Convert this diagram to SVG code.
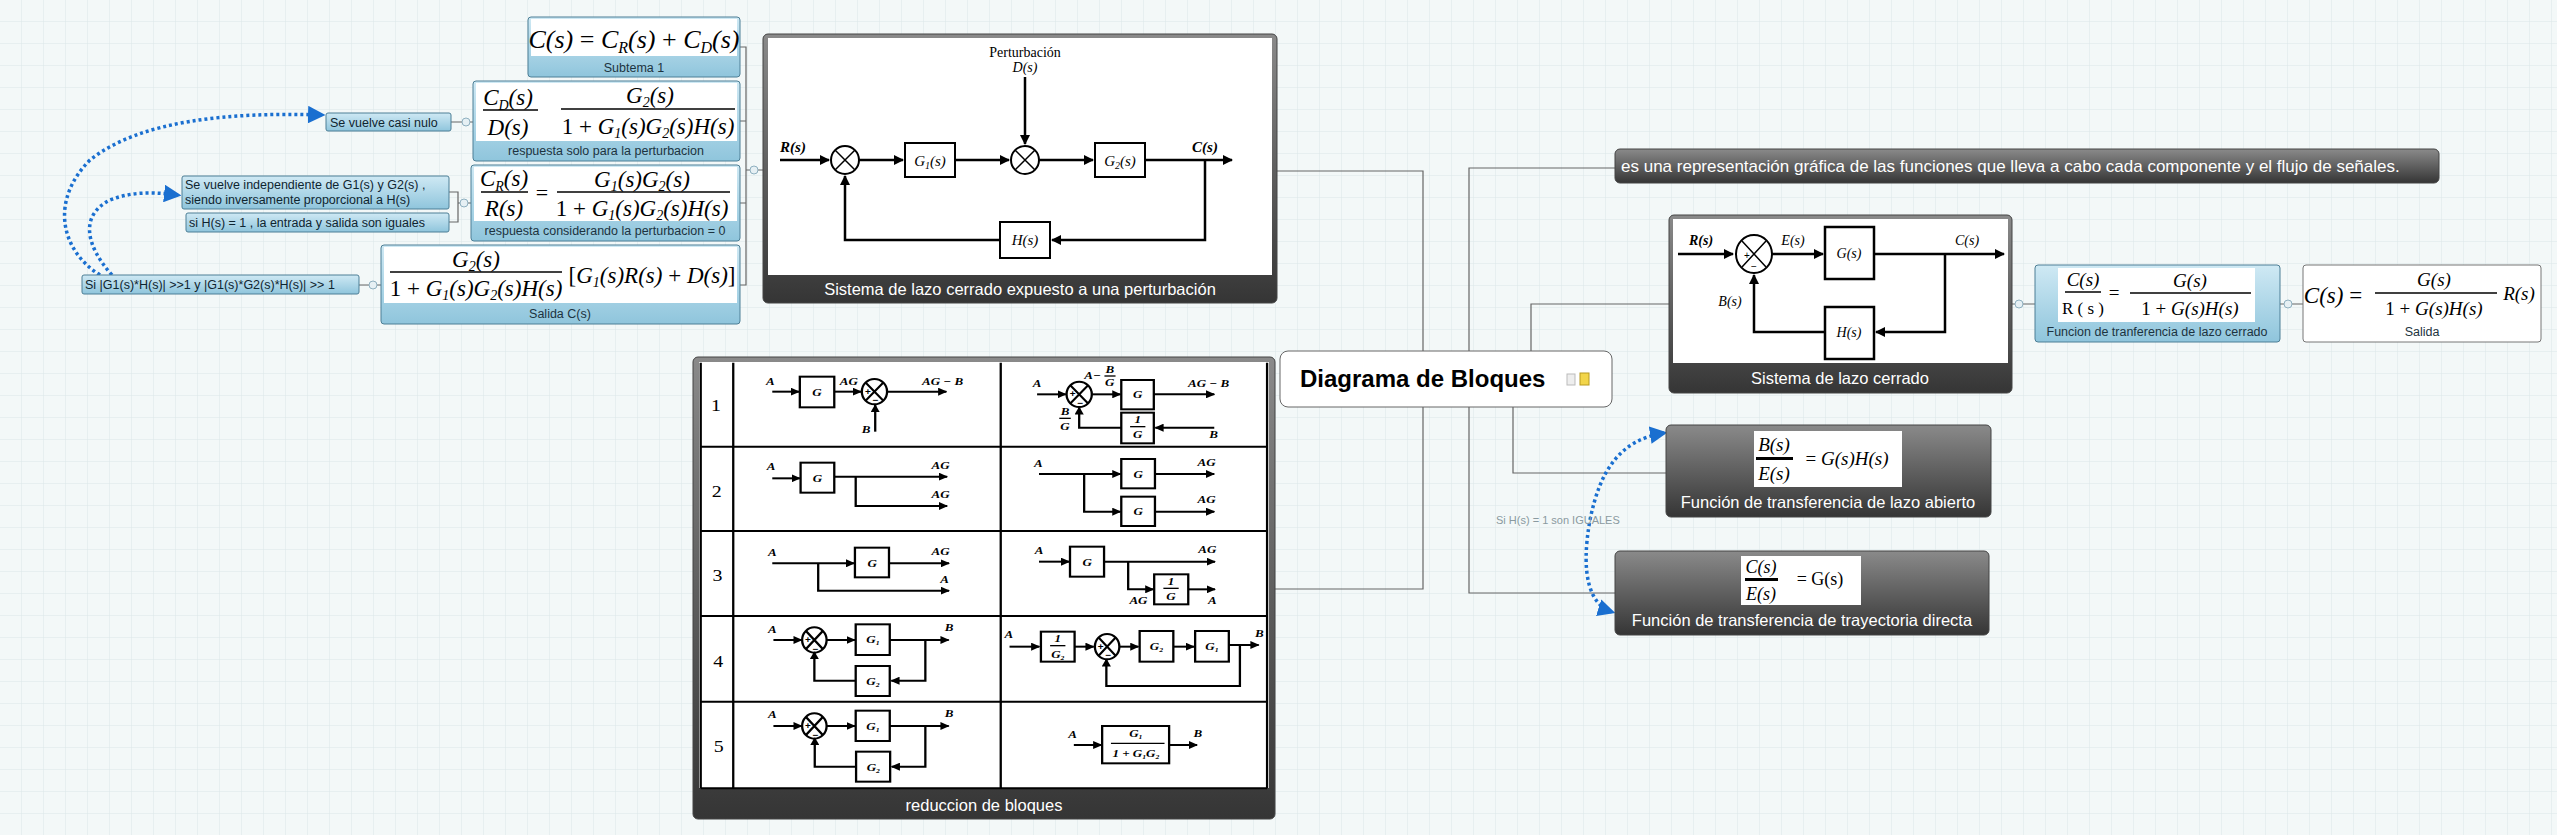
<svg xmlns="http://www.w3.org/2000/svg" width="2557" height="835" viewBox="0 0 2557 835">
<defs>
<pattern id="grid" width="22" height="22" patternUnits="userSpaceOnUse"><rect width="22" height="22" fill="#f3f8f8"/><path d="M22,0V22H0" fill="none" stroke="#dbe7e9" stroke-width="1"/></pattern>
<linearGradient id="dark" x1="0" y1="0" x2="0" y2="1"><stop offset="0" stop-color="#8a8a8a"/><stop offset="1" stop-color="#353535"/></linearGradient>
<linearGradient id="lb" x1="0" y1="0" x2="0" y2="1"><stop offset="0" stop-color="#cfe9f4"/><stop offset="1" stop-color="#8fc5dc"/></linearGradient>
<marker id="ar" viewBox="0 0 10 10" refX="9" refY="5" markerWidth="4" markerHeight="4" orient="auto"><path d="M0,0L10,5L0,10z" fill="#000"/></marker>
<marker id="ab" viewBox="0 0 10 10" refX="8" refY="5" markerWidth="5" markerHeight="5" orient="auto"><path d="M0,0L10,5L0,10z" fill="#1a6fd0"/></marker>
<marker id="abs" viewBox="0 0 10 10" refX="2" refY="5" markerWidth="5" markerHeight="5" orient="auto"><path d="M10,0L0,5L10,10z" fill="#1a6fd0"/></marker>
</defs>
<style>
.s{font-family:"Liberation Sans",Arial,sans-serif}
.m{font-family:"Liberation Serif","Times New Roman",serif;font-style:italic;fill:#000}
.n{font-style:normal}
.cap{font-family:"Liberation Sans",Arial,sans-serif;font-size:12.5px;fill:#1c3340;text-anchor:middle}
.wcap{font-family:"Liberation Sans",Arial,sans-serif;font-size:16.5px;fill:#fff;text-anchor:middle}
.lbn{fill:url(#lb);stroke:#4d7f96;stroke-width:1}
.dk{fill:url(#dark);stroke:#444;stroke-width:1}
.wh{fill:#fff}
.ln{fill:none;stroke:#666;stroke-width:1.2}
.bl{fill:none;stroke:#000;stroke-width:2.5}
.fr{stroke:#000;stroke-width:1.5}
.dot{fill:none;stroke:#1a6fd0;stroke-width:3.5;stroke-dasharray:3 3}
.t{fill:none;stroke:#000;stroke-width:6}
.ta{fill:none;stroke:#000;stroke-width:6;marker-end:url(#ar)}
.tt{font-family:"Liberation Serif","Times New Roman",serif;font-style:italic;font-weight:bold;font-size:34px;text-anchor:middle}
.tn{font-family:"Liberation Serif","Times New Roman",serif;font-size:52px;text-anchor:middle}
.knob{fill:#e6f0f4;stroke:#8fb0c0;stroke-width:1}
.sm{font-family:"Liberation Sans",Arial,sans-serif;font-size:12.5px;fill:#0f2530}
</style>
<rect width="2557" height="835" fill="url(#grid)"/>

<g id="connectors">
<path class="ln" d="M740,47H746V285H740M740,121H746M740,203H746M746,170H763"/>
<path class="ln" d="M451,122H473M449,192H458V222H449M458,203H471M359,285H381"/>
<circle class="knob" cx="466" cy="122" r="4"/><circle class="knob" cx="464" cy="203" r="4"/><circle class="knob" cx="373" cy="285" r="4"/><circle class="knob" cx="754" cy="170" r="4"/>
<path class="ln" d="M1277,171H1423V589H1275"/>
<path class="ln" d="M1615,168H1469V593H1615"/>
<path class="ln" d="M1669,304H1531V351"/>
<path class="ln" d="M1513,407V473H1666"/>
<path class="ln" d="M2012,304H2035M2280,304H2303"/>
<circle class="knob" cx="2019" cy="304" r="4"/><circle class="knob" cx="2288" cy="304" r="4"/>
<path class="dot" d="M100,275C60,250 50,200 90,160C140,120 230,112 322,115" marker-end="url(#ab)"/>
<path class="dot" d="M112,275C85,245 80,215 110,200C135,190 160,193 178,195" marker-end="url(#ab)"/>
<path class="dot" d="M1664,433C1620,440 1600,470 1590,520C1580,575 1590,605 1612,612" marker-end="url(#ab)" marker-start="url(#abs)"/>
<text class="s" x="1496" y="524" font-size="11" fill="#8a9aa0">Si H(s) = 1 son IGUALES</text>
</g>

<g id="subtema1">
<rect class="lbn" x="528" y="17" width="212" height="60" rx="3"/><rect class="wh" x="531" y="19" width="206" height="37"/>
<text class="m" x="634" y="48" font-size="26" text-anchor="middle">C(s) <tspan class="n">=</tspan> C<tspan font-size="16" dy="5">R</tspan><tspan dy="-5">(s) <tspan class="n">+</tspan> C</tspan><tspan font-size="16" dy="5">D</tspan><tspan dy="-5">(s)</tspan></text>
<text class="cap" x="634" y="72">Subtema 1</text>
</g>

<g id="cd">
<rect class="lbn" x="473" y="81" width="267" height="80" rx="3"/><rect class="wh" x="476" y="83" width="261" height="58"/>
<text class="m" x="508" y="105" font-size="23" text-anchor="middle">C<tspan font-size="14" dy="5">D</tspan><tspan dy="-5">(s)</tspan></text>
<line class="fr" x1="483" y1="110" x2="538" y2="110"/>
<text class="m" x="508" y="135" font-size="23" text-anchor="middle">D(s)</text>
<text class="m" x="650" y="103" font-size="23" text-anchor="middle">G<tspan font-size="14" dy="4">2</tspan><tspan dy="-4">(s)</tspan></text>
<line class="fr" x1="561" y1="109" x2="735" y2="109"/>
<text class="m" x="648" y="134" font-size="23" text-anchor="middle"><tspan class="n">1 +</tspan> G<tspan font-size="14" dy="4">1</tspan><tspan dy="-4">(s)G</tspan><tspan font-size="14" dy="4">2</tspan><tspan dy="-4">(s)H(s)</tspan></text>
<text class="cap" x="606" y="155">respuesta solo para la perturbacion</text>
</g>

<g id="cr">
<rect class="lbn" x="471" y="165" width="269" height="76" rx="3"/><rect class="wh" x="474" y="167" width="263" height="54"/>
<text class="m" x="504" y="186" font-size="23" text-anchor="middle">C<tspan font-size="14" dy="5">R</tspan><tspan dy="-5">(s)</tspan></text>
<line class="fr" x1="481" y1="192" x2="528" y2="192"/>
<text class="m" x="504" y="216" font-size="23" text-anchor="middle">R(s)</text>
<text class="m n" x="542" y="200" font-size="22" text-anchor="middle">=</text>
<text class="m" x="642" y="187" font-size="23" text-anchor="middle">G<tspan font-size="14" dy="4">1</tspan><tspan dy="-4">(s)G</tspan><tspan font-size="14" dy="4">2</tspan><tspan dy="-4">(s)</tspan></text>
<line class="fr" x1="557" y1="192" x2="730" y2="192"/>
<text class="m" x="642" y="216" font-size="23" text-anchor="middle"><tspan class="n">1 + </tspan> G<tspan font-size="14" dy="4">1</tspan><tspan dy="-4">(s)G</tspan><tspan font-size="14" dy="4">2</tspan><tspan dy="-4">(s)H(s)</tspan></text>
<text class="cap" x="605" y="235">respuesta considerando la perturbacion = 0</text>
</g>

<g id="salidaC">
<rect class="lbn" x="381" y="245" width="359" height="79" rx="3"/><rect class="wh" x="384" y="247" width="353" height="56"/>
<text class="m" x="476" y="267" font-size="23" text-anchor="middle">G<tspan font-size="14" dy="4">2</tspan><tspan dy="-4">(s)</tspan></text>
<line class="fr" x1="390" y1="272" x2="562" y2="272"/>
<text class="m" x="476" y="296" font-size="23" text-anchor="middle"><tspan class="n">1 + </tspan> G<tspan font-size="14" dy="4">1</tspan><tspan dy="-4">(s)G</tspan><tspan font-size="14" dy="4">2</tspan><tspan dy="-4">(s)H(s)</tspan></text>
<text class="m" x="652" y="283" font-size="23" text-anchor="middle"><tspan class="n">[</tspan>G<tspan font-size="14" dy="4">1</tspan><tspan dy="-4">(s)R(s) <tspan class="n">+</tspan> D(s)<tspan class="n">]</tspan></tspan></text>
<text class="cap" x="560" y="318">Salida C(s)</text>
</g>

<g id="nulo"><rect class="lbn" x="326" y="113" width="125" height="18" rx="2"/><text class="sm" x="330" y="127">Se vuelve casi nulo</text></g>
<g id="indep"><rect class="lbn" x="182" y="176" width="267" height="33" rx="2"/><text class="sm" x="185" y="189">Se vuelve independiente de G1(s) y G2(s) ,</text><text class="sm" x="185" y="204">siendo inversamente proporcional a H(s)</text></g>
<g id="igual"><rect class="lbn" x="186" y="213" width="263" height="19" rx="2"/><text class="sm" x="189" y="227">si H(s) = 1 , la entrada y salida son iguales</text></g>
<g id="si"><rect class="lbn" x="82" y="275" width="277" height="19" rx="2"/><text class="sm" x="85" y="289">Si |G1(s)*H(s)| &gt;&gt;1 y |G1(s)*G2(s)*H(s)| &gt;&gt; 1</text></g>

<g id="perturbacion">
<rect class="dk" x="763" y="34" width="514" height="269" rx="5"/><rect class="wh" x="768" y="38" width="504" height="237"/>
<text class="m n" x="1025" y="57" font-size="14" text-anchor="middle">Perturbación</text>
<text class="m" x="1025" y="72" font-size="14" text-anchor="middle">D(s)</text>
<path class="bl" d="M1025,77V144" marker-end="url(#ar)"/>
<text class="m" x="793" y="152" font-size="15" text-anchor="middle" font-weight="bold">R(s)</text>
<path class="bl" d="M780,160H829" marker-end="url(#ar)"/>
<circle cx="845" cy="160" r="14" fill="#fff" stroke="#000" stroke-width="2"/><path d="M835,150L855,170M855,150L835,170" stroke="#000" stroke-width="1.5"/>
<path class="bl" d="M859,160H903" marker-end="url(#ar)"/>
<rect x="905" y="143" width="50" height="34" fill="#fff" stroke="#000" stroke-width="2"/>
<text class="m" x="930" y="166" font-size="15" text-anchor="middle">G<tspan font-size="10" dy="3">1</tspan><tspan dy="-3">(s)</tspan></text>
<path class="bl" d="M955,160H1009" marker-end="url(#ar)"/>
<circle cx="1025" cy="160" r="14" fill="#fff" stroke="#000" stroke-width="2"/><path d="M1015,150L1035,170M1035,150L1015,170" stroke="#000" stroke-width="1.5"/>
<path class="bl" d="M1039,160H1093" marker-end="url(#ar)"/>
<rect x="1095" y="143" width="50" height="34" fill="#fff" stroke="#000" stroke-width="2"/>
<text class="m" x="1120" y="166" font-size="15" text-anchor="middle">G<tspan font-size="10" dy="3">2</tspan><tspan dy="-3">(s)</tspan></text>
<path class="bl" d="M1145,160H1232" marker-end="url(#ar)"/>
<text class="m" x="1205" y="152" font-size="15" text-anchor="middle" font-weight="bold">C(s)</text>
<path class="bl" d="M1205,160V240H1052" marker-end="url(#ar)"/>
<rect x="1000" y="222" width="50" height="36" fill="#fff" stroke="#000" stroke-width="2"/>
<text class="m" x="1025" y="245" font-size="15" text-anchor="middle">H(s)</text>
<path class="bl" d="M1000,240H845V176" marker-end="url(#ar)"/>
<text class="wcap" x="1020" y="295">Sistema de lazo cerrado expuesto a una perturbación</text>
</g>

<g id="reduccion">
<rect class="dk" x="693" y="357" width="582" height="462" rx="5"/><rect class="wh" x="699" y="362" width="570" height="426"/>
<g transform="translate(690,330) scale(0.38268,0.33333)">
<path d="M28,98V1375M113,98V1375M812,98V1375M1508,98V1375M28,350H1508M28,603H1508M28,858H1508M28,1115H1508M28,1375H1508" stroke="#000" stroke-width="6" fill="none"/>
<g class="tn"><text x="68" y="242">1</text><text x="70" y="500">2</text><text x="72" y="754">3</text><text x="74" y="1010">4</text><text x="75" y="1267">5</text></g>
<g class="tt">
<text x="210" y="165">A</text><path class="ta" d="M215,185H285"/><rect x="287" y="140" width="90" height="92" class="t"/><text x="332" y="198">G</text>
<text x="415" y="165">AG</text><path class="ta" d="M377,185H447"/><ellipse cx="482" cy="185" rx="33" ry="38" class="t"/><path class="t" d="M459,158L505,212M505,158L459,212" stroke-width="4"/>
<path class="ta" d="M516,185H670"/><text x="660" y="165">AG − B</text><text x="460" y="310">B</text><path class="ta" d="M484,305V225"/>
<text x="907" y="170">A</text><path class="ta" d="M907,193H982"/><ellipse cx="1017" cy="193" rx="33" ry="38" class="t"/><path class="t" d="M994,166L1040,220M1040,166L994,220" stroke-width="4"/>
<text x="1052" y="148">A−</text><text x="1097" y="128">B</text><path d="M1083,138H1112" stroke="#000" stroke-width="4"/><text x="1097" y="168">G</text>
<path class="ta" d="M1051,193H1125"/><rect x="1127" y="150" width="85" height="88" class="t"/><text x="1170" y="205">G</text>
<path class="ta" d="M1212,193H1370"/><text x="1355" y="170">AG − B</text>
<rect x="1127" y="248" width="85" height="92" class="t"/><text x="1170" y="280">1</text><path d="M1150,290H1190" stroke="#000" stroke-width="4"/><text x="1170" y="325">G</text>
<path class="ta" d="M1370,293H1216"/><text x="1368" y="325">B</text>
<path class="ta" d="M1127,293H1017V232"/><text x="980" y="255">B</text><path d="M965,265H995" stroke="#000" stroke-width="4"/><text x="980" y="300">G</text>
<text x="212" y="420">A</text><path class="ta" d="M215,445H287"/><rect x="289" y="398" width="88" height="90" class="t"/><text x="333" y="455">G</text>
<path class="ta" d="M377,440H672"/><text x="655" y="418">AG</text><path class="ta" d="M433,440V528H672"/><text x="655" y="505">AG</text>
<text x="910" y="410">A</text><path class="ta" d="M912,432H1125"/><rect x="1127" y="387" width="88" height="88" class="t"/><text x="1171" y="443">G</text>
<path class="ta" d="M1215,432H1370"/><text x="1350" y="407">AG</text>
<path class="ta" d="M1030,432V545H1125"/><rect x="1127" y="500" width="88" height="88" class="t"/><text x="1171" y="556">G</text>
<path class="ta" d="M1215,545H1370"/><text x="1350" y="520">AG</text>
<text x="215" y="677">A</text><path class="ta" d="M215,700H429"/><rect x="431" y="653" width="89" height="89" class="t"/><text x="476" y="710">G</text>
<path class="ta" d="M520,700H677"/><text x="655" y="675">AG</text><path class="ta" d="M335,700V782H677"/><text x="665" y="760">A</text>
<text x="912" y="673">A</text><path class="ta" d="M912,695H991"/><rect x="993" y="650" width="89" height="90" class="t"/><text x="1038" y="708">G</text>
<path class="ta" d="M1082,695H1372"/><text x="1352" y="670">AG</text>
<path class="ta" d="M1145,695V778H1211"/><rect x="1213" y="733" width="89" height="90" class="t"/><text x="1257" y="765">1</text><path d="M1237,775H1277" stroke="#000" stroke-width="4"/><text x="1257" y="810">G</text>
<path class="ta" d="M1302,778H1372"/><text x="1365" y="822">A</text><text x="1172" y="822">AG</text>
<text x="215" y="908">A</text><path class="ta" d="M218,930H292"/><ellipse cx="325" cy="930" rx="32" ry="38" class="t"/><path class="t" d="M303,903L347,957M347,903L303,957" stroke-width="4"/>
<path class="ta" d="M357,930H431"/><rect x="433" y="883" width="89" height="92" class="t"/><text x="478" y="940">G<tspan font-size="20" dy="6">1</tspan></text>
<path class="ta" d="M522,930H676"/><text x="677" y="903">B</text><path class="ta" d="M615,930V1052H526"/>
<rect x="433" y="1008" width="89" height="90" class="t"/><text x="478" y="1065">G<tspan font-size="20" dy="6">2</tspan></text><path class="ta" d="M433,1052H325V966"/>
<text x="833" y="925">A</text><path class="ta" d="M835,950H913"/><rect x="917" y="905" width="88" height="90" class="t"/><text x="961" y="937">1</text><path d="M941,947H981" stroke="#000" stroke-width="4"/><text x="961" y="985">G<tspan font-size="20" dy="6">2</tspan></text>
<path class="ta" d="M1005,950H1055"/><ellipse cx="1090" cy="950" rx="32" ry="38" class="t"/><path class="t" d="M1068,923L1112,977M1112,923L1068,977" stroke-width="4"/>
<path class="ta" d="M1122,950H1172"/><rect x="1175" y="903" width="88" height="92" class="t"/><text x="1219" y="960">G<tspan font-size="20" dy="6">2</tspan></text>
<path class="ta" d="M1263,950H1317"/><rect x="1320" y="903" width="88" height="92" class="t"/><text x="1364" y="960">G<tspan font-size="20" dy="6">1</tspan></text>
<path class="ta" d="M1408,945H1486"/><text x="1488" y="922">B</text><path class="ta" d="M1437,945V1068H1088V988"/>
<text x="215" y="1165">A</text><path class="ta" d="M218,1188H292"/><ellipse cx="325" cy="1188" rx="32" ry="38" class="t"/><path class="t" d="M303,1161L347,1215M347,1161L303,1215" stroke-width="4"/>
<path class="ta" d="M357,1188H431"/><rect x="433" y="1142" width="89" height="91" class="t"/><text x="478" y="1200">G<tspan font-size="20" dy="6">1</tspan></text>
<path class="ta" d="M522,1188H676"/><text x="677" y="1160">B</text><path class="ta" d="M615,1188V1310H527"/>
<rect x="434" y="1265" width="89" height="90" class="t"/><text x="479" y="1322">G<tspan font-size="20" dy="6">2</tspan></text><path class="ta" d="M434,1310H326V1224"/>
<text x="1000" y="1225">A</text><path class="ta" d="M1003,1245H1075"/><rect x="1077" y="1188" width="175" height="112" class="t"/>
<text x="1165" y="1222">G<tspan font-size="20" dy="6">1</tspan></text><path d="M1100,1240H1240" stroke="#000" stroke-width="4"/><text x="1165" y="1282">1 + G<tspan font-size="20" dy="6">1</tspan><tspan dy="-6">G</tspan><tspan font-size="20" dy="6">2</tspan></text>
<path class="ta" d="M1252,1245H1325"/><text x="1327" y="1222">B</text>
</g>
<g font-family="Liberation Sans,sans-serif" font-size="26" font-weight="bold" text-anchor="middle">
<text x="465" y="194">+</text><text x="484" y="220">−</text><text x="1000" y="202">+</text><text x="1019" y="228">−</text>
<text x="308" y="940">+</text><text x="327" y="965">−</text><text x="1073" y="960">+</text><text x="1092" y="985">−</text>
<text x="308" y="1198">+</text><text x="327" y="1223">−</text></g>
</g>
<text class="wcap" x="984" y="811">reduccion de bloques</text>
</g>

<g id="central">
<rect x="1280" y="351" width="332" height="56" rx="8" fill="#fff" stroke="#666" stroke-width="1"/>
<text class="s" x="1300" y="387" font-size="24" font-weight="bold" fill="#000">Diagrama de Bloques</text>
<rect x="1567" y="374" width="8" height="11" fill="#eee" stroke="#bbb"/><rect x="1580" y="373" width="9" height="12" fill="#f2d54a" stroke="#b89a20"/>
</g>

<g id="definicion">
<rect class="dk" x="1615" y="149" width="824" height="34" rx="5"/>
<text class="s" x="1621" y="172" font-size="17" fill="#fff">es  una  representación gráfica de las funciones que lleva a cabo cada componente y el flujo de señales.</text>
</g>

<g id="lazocerrado">
<rect class="dk" x="1669" y="215" width="343" height="178" rx="5"/><rect class="wh" x="1673" y="219" width="335" height="144"/>
<text class="m" x="1701" y="245" font-size="14" text-anchor="middle" font-weight="bold">R(s)</text>
<path class="bl" d="M1678,254H1733" stroke-width="3" marker-end="url(#ar)"/>
<ellipse cx="1754" cy="254" rx="18" ry="19" fill="#fff" stroke="#000" stroke-width="2"/><path d="M1742,241L1766,267M1766,241L1742,267" stroke="#000" stroke-width="1.5"/>
<text class="s" x="1744" y="259" font-size="10">+</text><text class="s" x="1751" y="270" font-size="10">−</text>
<text class="m" x="1793" y="245" font-size="14" text-anchor="middle">E(s)</text>
<path class="bl" d="M1772,254H1823" marker-end="url(#ar)"/>
<rect x="1825" y="227" width="49" height="52" fill="#fff" stroke="#000" stroke-width="2.5"/>
<text class="m" x="1849" y="258" font-size="14" text-anchor="middle">G(s)</text>
<path class="bl" d="M1874,254H2004" stroke-width="3.5" marker-end="url(#ar)"/>
<text class="m" x="1967" y="245" font-size="14" text-anchor="middle">C(s)</text>
<path class="bl" d="M1945,254V332H1876" marker-end="url(#ar)"/>
<rect x="1825" y="307" width="49" height="52" fill="#fff" stroke="#000" stroke-width="2.5"/>
<text class="m" x="1849" y="337" font-size="14" text-anchor="middle">H(s)</text>
<path class="bl" d="M1825,332H1754V275" marker-end="url(#ar)"/>
<text class="m" x="1730" y="306" font-size="14" text-anchor="middle">B(s)</text>
<text class="wcap" x="1840" y="384">Sistema de lazo cerrado</text>
</g>

<g id="tfcerrado">
<rect class="lbn" x="2035" y="265" width="245" height="77" rx="3"/><rect class="wh" x="2058" y="268" width="197" height="54"/>
<text class="m" x="2083" y="286" font-size="19" text-anchor="middle">C(s)</text>
<line class="fr" x1="2065" y1="292" x2="2101" y2="292"/>
<text class="m n" x="2083" y="314" font-size="17" text-anchor="middle">R ( s )</text>
<text class="m n" x="2114" y="299" font-size="19" text-anchor="middle">=</text>
<text class="m" x="2190" y="287" font-size="19" text-anchor="middle">G(s)</text>
<line class="fr" x1="2130" y1="293" x2="2251" y2="293"/>
<text class="m" x="2190" y="315" font-size="19" text-anchor="middle"><tspan class="n">1  +  </tspan>G(s)H(s)</text>
<text class="cap" x="2157" y="336" font-size="11">Funcion de tranferencia de lazo cerrado</text>
</g>

<g id="salida">
<rect x="2303" y="265" width="238" height="77" rx="3" fill="#fff" stroke="#777"/>
<text class="m" x="2333" y="303" font-size="23" text-anchor="middle">C(s) <tspan class="n">=</tspan></text>
<text class="m" x="2434" y="286" font-size="19" text-anchor="middle">G(s)</text>
<line class="fr" x1="2375" y1="293" x2="2497" y2="293"/>
<text class="m" x="2434" y="315" font-size="19" text-anchor="middle"><tspan class="n">1 + </tspan>G(s)H(s)</text>
<text class="m" x="2519" y="300" font-size="19" text-anchor="middle">R(s)</text>
<text class="cap" x="2422" y="336" font-size="11">Salida</text>
</g>

<g id="lazoabierto">
<rect class="dk" x="1666" y="425" width="325" height="92" rx="5"/><rect class="wh" x="1754" y="431" width="148" height="56"/>
<text class="m" x="1774" y="451" font-size="19" text-anchor="middle">B(s)</text>
<rect x="1756" y="457" width="37" height="3" fill="#000"/>
<text class="m" x="1774" y="480" font-size="19" text-anchor="middle">E(s)</text>
<text class="m" x="1847" y="465" font-size="19" text-anchor="middle"><tspan class="n">=</tspan> G(s)H(s)</text>
<text class="wcap" x="1828" y="508">Función de transferencia de lazo abierto</text>
</g>

<g id="directa">
<rect class="dk" x="1615" y="551" width="374" height="84" rx="5"/><rect class="wh" x="1741" y="556" width="120" height="49"/>
<text class="m" x="1761" y="573" font-size="18" text-anchor="middle">C(s)</text>
<rect x="1745" y="578" width="33" height="3" fill="#000"/>
<text class="m" x="1761" y="600" font-size="18" text-anchor="middle">E(s)</text>
<text class="m" x="1820" y="585" font-size="18" text-anchor="middle"><tspan class="n">=  G(s)</tspan></text>
<text class="wcap" x="1802" y="626">Función de transferencia de trayectoria directa</text>
</g>
</svg>
